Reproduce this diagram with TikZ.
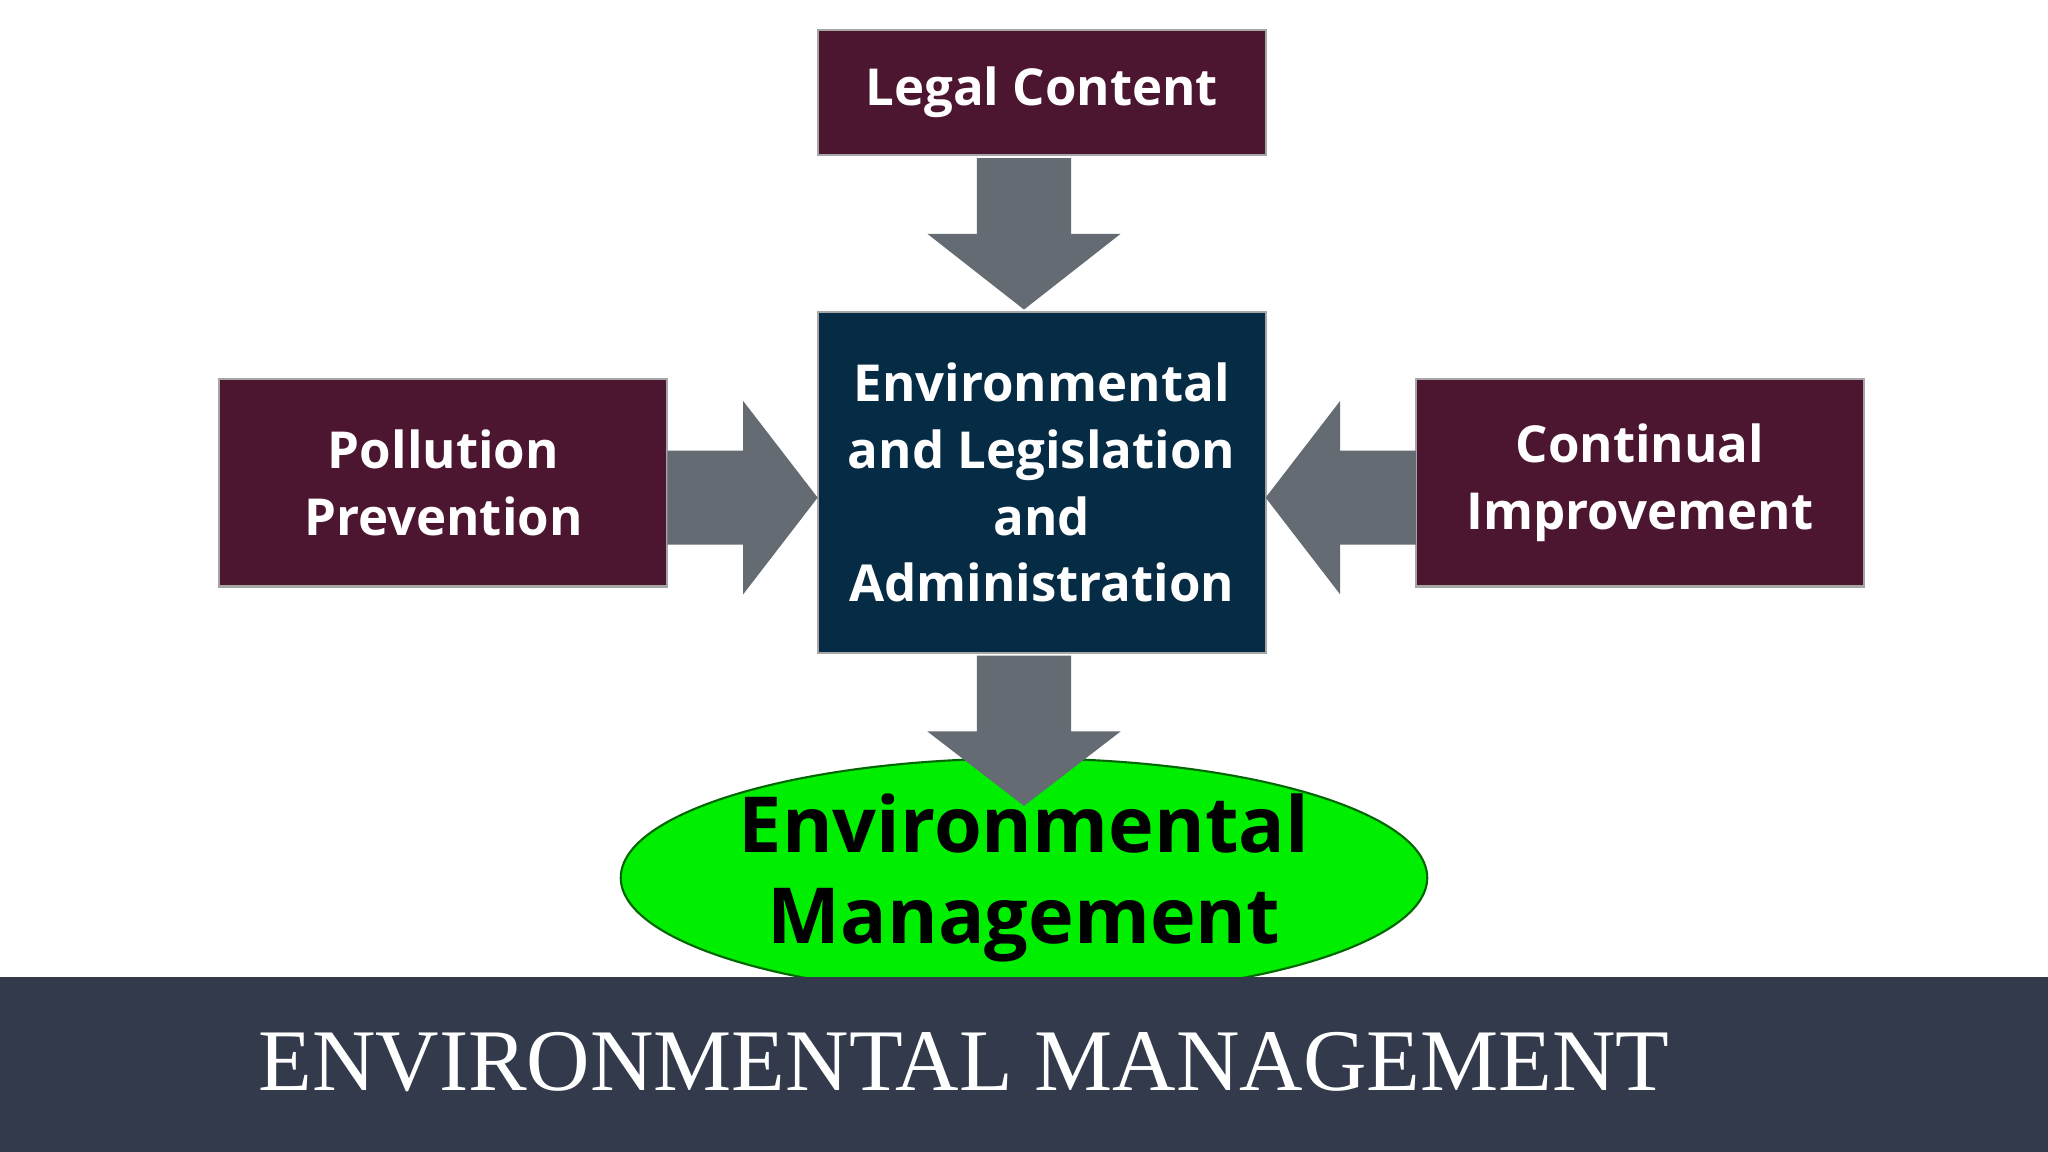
\documentclass[tikz,border=0pt]{standalone}
\usepackage{fontspec}
\usetikzlibrary{shapes.geometric}
\setmainfont{Liberation Serif}
\setsansfont{Open Sans}
\definecolor{maroon}{HTML}{4C1530}
\definecolor{navy}{HTML}{062B45}
\definecolor{arrowgray}{HTML}{646B73}
\definecolor{band}{HTML}{323A4C}
\definecolor{lgreen}{HTML}{00EE00}
\tikzset{
  box/.style={draw=gray!70, line width=0.6pt, fill=maroon, text=white, align=center, font=\sffamily\bfseries\fontsize{14.5}{19}\selectfont},
  arr/.style={fill=arrowgray, draw=none}
}
\begin{document}
\begin{tikzpicture}[x=0.01306cm,y=-0.01306cm]
\useasboundingbox (0,0) rectangle (1568,882);
\fill[white] (0,0) rectangle (1568,882);
% boxes
\node[box, minimum width=343*0.01306cm, minimum height=96*0.01306cm] (legal) at (797.5,71) {Legal Content};
\node[box, fill=navy, minimum width=343*0.01306cm, minimum height=261*0.01306cm] (center) at (797.5,369.5) {Environmental\\and Legislation\\and\\Administration};
\node[box, minimum width=343*0.01306cm, minimum height=159*0.01306cm] (poll) at (339.5,369.5) {Pollution\\Prevention};
\node[box, minimum width=343*0.01306cm, minimum height=159*0.01306cm] (cont) at (1255.5,369.5) {Continual\\Improvement};
\node[ellipse, draw=black!60!green, line width=0.6pt, fill=lgreen, minimum width=588*0.01306cm, minimum height=136*0.01306cm, align=center, inner sep=0pt, font=\sffamily\bfseries\fontsize{22}{26}\selectfont] (em) at (784,672) {Environmental\\Management};
% arrows
\fill[arr] (748,121) -- (820,121) -- (820,179) -- (858,179) -- (784,237) -- (710,179) -- (748,179) -- cycle;
\fill[arr] (748,502) -- (820,502) -- (820,560) -- (858,560) -- (784,617) -- (710,560) -- (748,560) -- cycle;
\fill[arr] (511,345) -- (569,345) -- (569,307) -- (626,381) -- (569,455) -- (569,417) -- (511,417) -- cycle;
\fill[arr] (1084,345) -- (1026,345) -- (1026,307) -- (969,381) -- (1026,455) -- (1026,417) -- (1084,417) -- cycle;
% band
\fill[band] (0,748) rectangle (1568,882);
\node[text=white, font=\fontsize{25}{30}\selectfont] (title) at (738,813) {ENVIRONMENTAL MANAGEMENT};
\end{tikzpicture}
\end{document}
